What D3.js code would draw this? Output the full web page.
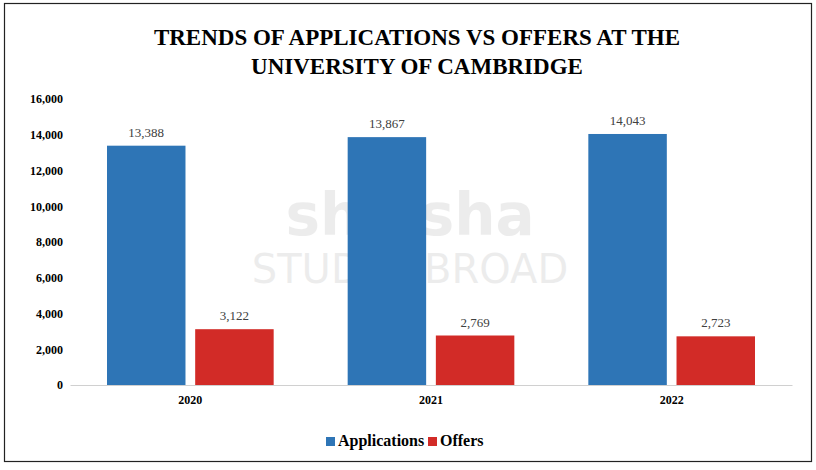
<!DOCTYPE html>
<html><head><meta charset="utf-8">
<script src="https://cdn.jsdelivr.net/npm/d3@7"></script>
<style>body{margin:0;background:#fff}</style>
</head><body>
<div id="chart"></div>
<script>
var years = ["2020", "2021", "2022"];
var seriesNames = ["Applications", "Offers"];
var applications = [13388, 13867, 14043];
var offers = [3122, 2769, 2723];
var yTicks = [0, 2000, 4000, 6000, 8000, 10000, 12000, 14000, 16000];
var colors = ["#2E75B6", "#D22B27"];

var W = 816, H = 470;
var svg = d3.select("#chart").append("svg").attr("width", W).attr("height", H);
svg.append("rect").attr("x", 4.5).attr("y", 3.5).attr("width", 807).attr("height", 458)
  .attr("fill", "#fff").attr("stroke", "#222").attr("stroke-width", 1.2);

svg.append("text").attr("x", 417).attr("y", 45).attr("text-anchor", "middle")
  .attr("font-family", "Liberation Serif").attr("font-weight", "bold").attr("font-size", 23)
  .text("TRENDS OF APPLICATIONS  VS OFFERS AT THE");
svg.append("text").attr("x", 417).attr("y", 74).attr("text-anchor", "middle")
  .attr("font-family", "Liberation Serif").attr("font-weight", "bold").attr("font-size", 23)
  .text("UNIVERSITY  OF CAMBRIDGE");

// faint watermark
svg.append("text").attr("x", 410).attr("y", 235).attr("text-anchor", "middle")
  .attr("font-family", "DejaVu Sans").attr("font-weight", "bold").attr("font-size", 58)
  .attr("fill", "#000").attr("opacity", 0.07).text("shiksha");
svg.append("text").attr("x", 410).attr("y", 283).attr("text-anchor", "middle")
  .attr("font-family", "DejaVu Sans").attr("font-size", 40)
  .attr("fill", "#000").attr("opacity", 0.07).text("STUDY ABROAD");

var x0 = d3.scaleBand().domain(years).range([70, 792]);
var bw = x0.bandwidth();
var x1 = d3.scaleBand().domain(seriesNames).range([37, bw - 37]).paddingInner(0.11);
var y = d3.scaleLinear().domain([0, 16000]).range([385, 99]);

var yAxis = svg.append("g").attr("transform", "translate(66,0)")
  .call(d3.axisLeft(y).tickValues(yTicks).tickSize(0).tickFormat(d3.format(",")));
yAxis.select(".domain").remove();
yAxis.selectAll("text").attr("font-family", "Liberation Serif").attr("font-weight", "bold")
  .attr("font-size", 12).attr("fill", "#000");

var rows = years.map(function(yr, i){ return {year: yr, vals: [applications[i], offers[i]]}; });
var g = svg.selectAll(".grp").data(rows).enter().append("g")
  .attr("transform", function(d){ return "translate(" + x0(d.year) + ",0)"; });
g.selectAll("rect").data(function(d){ return d.vals; }).enter().append("rect")
  .attr("x", function(d, i){ return x1(seriesNames[i]); })
  .attr("y", function(d){ return y(d); })
  .attr("width", x1.bandwidth())
  .attr("height", function(d){ return y(0) - y(d); })
  .attr("fill", function(d, i){ return colors[i]; });
g.selectAll(".lbl").data(function(d){ return d.vals; }).enter().append("text")
  .attr("x", function(d, i){ return x1(seriesNames[i]) + x1.bandwidth() / 2; })
  .attr("y", function(d){ return y(d) - 9; })
  .attr("text-anchor", "middle").attr("font-family", "Liberation Serif")
  .attr("font-size", 13).attr("fill", "#404040").text(d3.format(","));

var xAxis = svg.append("g").attr("transform", "translate(0,385)")
  .call(d3.axisBottom(x0).tickSize(0).tickPadding(10));
xAxis.select(".domain").attr("stroke", "#d0d0d0");
xAxis.selectAll("text").attr("font-family", "Liberation Serif").attr("font-weight", "bold")
  .attr("font-size", 12).attr("fill", "#000");

var legend = svg.append("g");
var lx = [326, 428];
seriesNames.forEach(function(s, i){
  legend.append("rect").attr("x", lx[i]).attr("y", 437).attr("width", 9).attr("height", 9).attr("fill", colors[i]);
  legend.append("text").attr("x", lx[i] + 12).attr("y", 446).attr("font-family", "Liberation Serif")
    .attr("font-weight", "bold").attr("font-size", 16).attr("fill", "#000").text(s);
});
</script>
</body></html>
